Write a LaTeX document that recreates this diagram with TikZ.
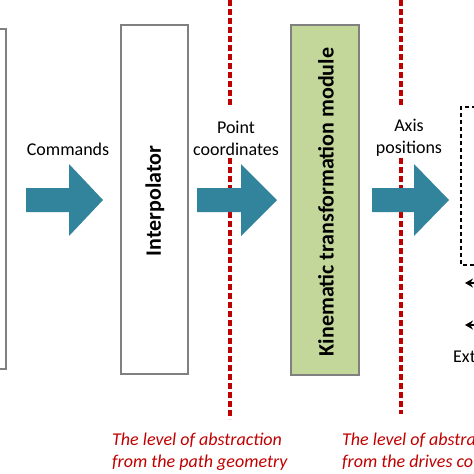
\documentclass[tikz,border=0pt]{standalone}
\usepackage{fontspec}
\setmainfont{Carlito}
\usetikzlibrary{arrows.meta}
\definecolor{tealarr}{HTML}{31849B}
\definecolor{boxgray}{HTML}{808080}
\definecolor{kinfill}{HTML}{C4D79B}
\definecolor{darkred}{HTML}{C00000}
\tikzset{
  blockbox/.style={draw=boxgray, line width=1.8pt},
  reddash/.style={draw=darkred, line width=3.5pt, dash pattern=on 6pt off 3pt},
  lbl/.style={font=\fontsize{18}{22}\selectfont, align=center, inner sep=0pt},
  boxtext/.style={font=\fontsize{22}{26}\selectfont\bfseries, rotate=90, inner sep=0pt},
  redtext/.style={font=\fontsize{18}{21.5}\selectfont\itshape, text=darkred, align=left, inner sep=0pt, anchor=north west},
  blockarrow/.style={fill=tealarr, draw=none},
  smallarr/.style={-{Stealth[length=8pt,width=9pt]}, line width=1.2pt}
}
\newcommand\blockarr[3]{% #1 x start, #2 head start, #3 tip
  \fill[blockarrow] (#1,188) -- (#2,188) -- (#2,164) -- (#3,200) -- (#2,236) -- (#2,212) -- (#1,212) -- cycle;}
\begin{document}
\begin{tikzpicture}[x=1pt,y=-1pt]
\useasboundingbox (0,0) rectangle (474,474);
\clip (0,0) rectangle (474,474);
% left (cut) box
\draw[blockbox] (-20,29) rectangle (6,369);
% interpolator
\draw[blockbox] (121,25) rectangle (188,374);
\node[boxtext] (interp) at (155,201) {Interpolator};
% kinematic module
\filldraw[blockbox, fill=kinfill] (291,25) rectangle (359,375);
\node[boxtext] (kin) at (326,202) {Kinematic transformation module};
% red dashed lines
\draw[reddash] (230,0) -- (230,107);
\draw[reddash] (230,158) -- (230,419);
\draw[reddash] (401,0) -- (401,107);
\draw[reddash] (401,158) -- (401,414);
% block arrows
\blockarr{26}{69}{103}
\blockarr{197}{241}{277}
\blockarr{372}{414}{449}
% labels
\node[lbl] (cmd) at (68,149) {Commands};
\node[lbl] (pc) at (236,138) {Point\\coordinates};
\node[lbl] (ap) at (409,138) {Axis\\positions};
% dashed box at right
\draw[black, line width=1.2pt, dash pattern=on 4pt off 3pt] (490,107) -- (461,107) -- (461,265) -- (490,265);
% small arrows
\coordinate (a1s) at (490,283);
\coordinate (a1e) at (465,283);
\coordinate (a2s) at (490,325);
\coordinate (a2e) at (465,325);
\draw[smallarr] (a1s) -- (a1e);
\draw[smallarr] (a2s) -- (a2e);
\node[lbl, anchor=west] (ext) at (453,357) {Ext};
% red italic notes
\node[redtext] (n1) at (112,433) {The level of abstraction\\from the path geometry};
\node[redtext] (n2) at (342,433) {The level of abstraction\\from the drives co};
\end{tikzpicture}
\end{document}
